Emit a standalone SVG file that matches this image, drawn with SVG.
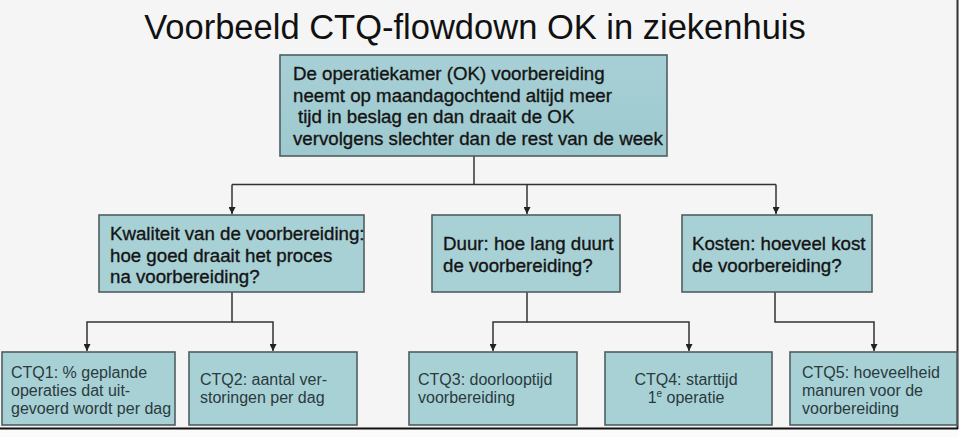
<svg xmlns="http://www.w3.org/2000/svg" width="959" height="437" viewBox="0 0 959 437">
  <defs>
    <marker id="arr" viewBox="0 0 10 10" refX="10" refY="5" markerWidth="7" markerHeight="7" markerUnits="userSpaceOnUse" orient="auto">
      <path d="M0,0 L10,5 L0,10 z" fill="#222"/>
    </marker>
    <linearGradient id="topfill" x1="0" y1="0" x2="0" y2="1">
      <stop offset="0" stop-color="#a6d0d5"/>
      <stop offset="1" stop-color="#9ec9ce"/>
    </linearGradient>
  </defs>
  <style>
    .box { fill: #a8d1d6; stroke: #4f5e60; stroke-width: 1.6; }
    .big { font-family: "Liberation Sans", Arial, sans-serif; font-size: 18.7px; fill: #141414; stroke: #141414; stroke-width: 0.35; }
    .small { font-family: "Liberation Sans", Arial, sans-serif; font-size: 16px; fill: #2a3a3d; }
    .title { font-family: "Liberation Sans", Arial, sans-serif; font-size: 34.5px; fill: #111; }
    .conn { fill: none; stroke: #333; stroke-width: 1.5; }
  </style>
  <rect x="0" y="0" width="959" height="437" fill="#f5f5f5"/>
  <rect x="0" y="429" width="959" height="8" fill="#fbfbfb"/>
  <line x1="957.5" y1="0" x2="957.5" y2="429" stroke="#333" stroke-width="2"/>
  <line x1="0" y1="428.5" x2="958" y2="428.5" stroke="#111" stroke-width="2"/>

  <text class="title" x="475" y="39" text-anchor="middle">Voorbeeld CTQ-flowdown OK in ziekenhuis</text>

  <g id="connectors">
    <path class="conn" d="M474,156 V184.5"/>
    <path class="conn" d="M232,184.5 H776"/>
    <path class="conn" d="M232,184.5 V214" marker-end="url(#arr)"/>
    <path class="conn" d="M527,184.5 V214" marker-end="url(#arr)"/>
    <path class="conn" d="M776,184.5 V214" marker-end="url(#arr)"/>
    <path class="conn" d="M232,292 V322 H87 V351" marker-end="url(#arr)"/>
    <path class="conn" d="M232,322 H273 V351" marker-end="url(#arr)"/>
    <path class="conn" d="M527,292 V322 H493 V351" marker-end="url(#arr)"/>
    <path class="conn" d="M527,322 H689 V351" marker-end="url(#arr)"/>
    <path class="conn" d="M775,292 V322 H874 V351" marker-end="url(#arr)"/>
  </g>

  <g id="top">
    <rect class="box" x="280" y="55" width="387" height="101" style="fill:url(#topfill)"/>
    <text class="big" x="293" y="80">De operatiekamer (OK) voorbereiding</text>
    <text class="big" x="293" y="101.5">neemt op maandagochtend altijd meer</text>
    <text class="big" x="298" y="123">tijd in beslag en dan draait de OK</text>
    <text class="big" x="293" y="145">vervolgens slechter dan de rest van de week</text>
  </g>

  <g id="kwaliteit">
    <rect class="box" x="99" y="215" width="265" height="77"/>
    <text class="big" x="110" y="240">Kwaliteit van de voorbereiding:</text>
    <text class="big" x="110" y="261.5">hoe goed draait het proces</text>
    <text class="big" x="110" y="283">na voorbereiding?</text>
  </g>

  <g id="duur">
    <rect class="box" x="432" y="215" width="188" height="77"/>
    <text class="big" x="443" y="250">Duur: hoe lang duurt</text>
    <text class="big" x="443" y="271.5">de voorbereiding?</text>
  </g>

  <g id="kosten">
    <rect class="box" x="682" y="215" width="190" height="77"/>
    <text class="big" x="692" y="250">Kosten: hoeveel kost</text>
    <text class="big" x="692" y="271.5">de voorbereiding?</text>
  </g>

  <g id="ctq1">
    <rect class="box" x="2" y="352" width="173" height="73"/>
    <text class="small" x="11" y="378">CTQ1: % geplande</text>
    <text class="small" x="11" y="396">operaties dat uit-</text>
    <text class="small" x="11" y="414">gevoerd wordt per dag</text>
  </g>

  <g id="ctq2">
    <rect class="box" x="189" y="352" width="168" height="73"/>
    <text class="small" x="200" y="385">CTQ2: aantal ver-</text>
    <text class="small" x="200" y="403">storingen per dag</text>
  </g>

  <g id="ctq3">
    <rect class="box" x="409" y="352" width="168" height="73"/>
    <text class="small" x="418" y="385">CTQ3: doorlooptijd</text>
    <text class="small" x="418" y="403">voorbereiding</text>
  </g>

  <g id="ctq4">
    <rect class="box" x="605" y="352" width="167" height="73"/>
    <text class="small" x="686" y="385" text-anchor="middle">CTQ4: starttijd</text>
    <text class="small" x="686" y="403" text-anchor="middle">1<tspan font-size="10" dy="-6">e</tspan><tspan dy="6"> operatie</tspan></text>
  </g>

  <g id="ctq5">
    <rect class="box" x="790" y="352" width="167" height="73"/>
    <text class="small" x="802" y="378">CTQ5: hoeveelheid</text>
    <text class="small" x="802" y="396">manuren voor de</text>
    <text class="small" x="802" y="414">voorbereiding</text>
  </g>
</svg>
